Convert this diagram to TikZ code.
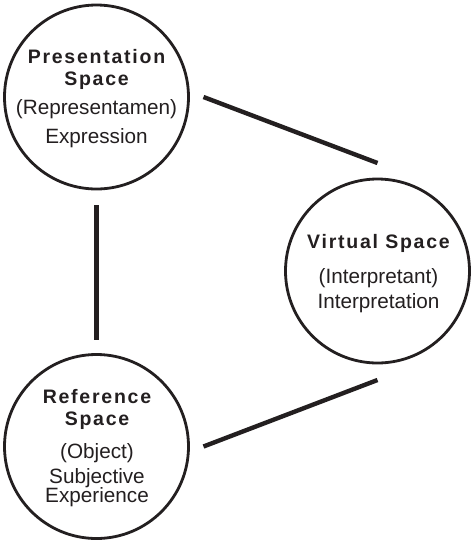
\documentclass[tikz,border=0pt]{standalone}
\usepackage{fontspec}
\setmainfont{Liberation Sans}
\newfontfamily\titlefont[LetterSpace=9]{Liberation Sans}
\definecolor{ink}{HTML}{231F20}
\begin{document}
\begin{tikzpicture}[x=1pt,y=-1pt,
  space/.style={circle,draw=ink,line width=2.8pt,minimum size=184pt,inner sep=0pt,outer sep=0pt},
  link/.style={draw=ink,line width=4.4pt},
  head/.style={anchor=base,inner sep=0pt,text=ink,font=\titlefont\bfseries\fontsize{19.5}{22}\selectfont},
  body/.style={anchor=base,inner sep=0pt,text=ink,font=\fontsize{20.7}{24}\selectfont}]
\useasboundingbox (0,0) rectangle (474,542);
\fill[white] (0,0) rectangle (474,542);
% circles
\node[space] (pres) at (96.5,97) {};
\node[space] (virt) at (377.5,271) {};
\node[space] (ref) at (96.5,446.5) {};
% texts
\node[head] (p1) at (96.5,63) {Presentation};
\node[head] (p2) at (96.5,85) {Space};
\node[body] (p3) at (96.5,114) {(Representamen)};
\node[body] (p4) at (96.5,143) {Expression};
\node[head] (v1) at (378.5,248) {Virtual Space};
\node[body] (v2) at (378.5,283) {(Interpretant)};
\node[body] (v3) at (378.5,308) {Interpretation};
\node[head] (r1) at (97,403) {Reference};
\node[head] (r2) at (97,425) {Space};
\node[body] (r3) at (97,458) {(Object)};
\node[body] (r4) at (97,483) {Subjective};
\node[body] (r5) at (97,502) {Experience};
% connector ends
\coordinate (a1) at ([xshift=15pt]pres.east);
\coordinate (a2) at ([yshift=16pt]virt.north);
\coordinate (b1) at ([yshift=-16pt]pres.south);
\coordinate (b2) at ([yshift=15pt]ref.north);
\coordinate (c1) at ([xshift=15pt]ref.east);
\coordinate (c2) at ([yshift=-17pt]virt.south);
\draw[link] (a1) -- (a2);
\draw[link] (b1) -- (b2);
\draw[link] (c1) -- (c2);
\end{tikzpicture}
\end{document}
